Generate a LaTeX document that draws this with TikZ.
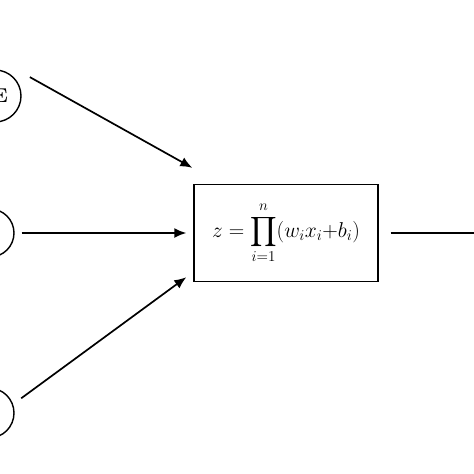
\documentclass[tikz,border=0pt]{standalone}
\usepackage{fix-cm}
\usepackage{amsmath}
\usepackage{tikz}
\usetikzlibrary{positioning}
\usetikzlibrary{arrows.meta}
\tikzstyle{neuron} = [circle, draw=black, line width=1.4pt, inner sep=0pt]
\tikzstyle{box} = [rectangle, draw=black, line width=1.4pt, minimum width=184pt, minimum height=97pt]
\tikzstyle{arrow} = [line width=1.7pt, -{Latex[length=12pt,width=10pt]}]
\tikzstyle{wire} = [line width=1.7pt]

\begin{document}
\begin{tikzpicture}[x=1pt,y=-1pt]
\useasboundingbox (0,0) rectangle (474,474);
\clip (0,0) rectangle (474,474);

\node (in1) [neuron, minimum size=52pt] at (-5,96) {};
\node (in2) [neuron, minimum size=48pt] at (-10,233) {};
\node (in3) [neuron, minimum size=50pt] at (-11,413) {};
\node (sym) [anchor=east, inner sep=0pt, font=\fontsize{20}{24}\selectfont\bfseries] at (8,96) {E};

\node (prod) [box] at (286,233) {\fontsize{21.5}{26}\selectfont $\displaystyle z=\prod_{i=1}^{n}(w_ix_i{+}b_i)$};
\coordinate (out) at (476,233);

\draw [arrow] ([xshift=16pt]in1.north east) -- ([xshift=-1pt,yshift=16pt]prod.north west);
\draw [arrow, shorten <=7pt, shorten >=7pt] (in2.east) -- (in2.east -| prod.west);
\draw [arrow, shorten <=10pt] (in3.20) -- ([xshift=-7pt,yshift=5pt]prod.south west);
\draw [wire, shorten <=12pt] (prod.east) -- (out);
\end{tikzpicture}
\end{document}
